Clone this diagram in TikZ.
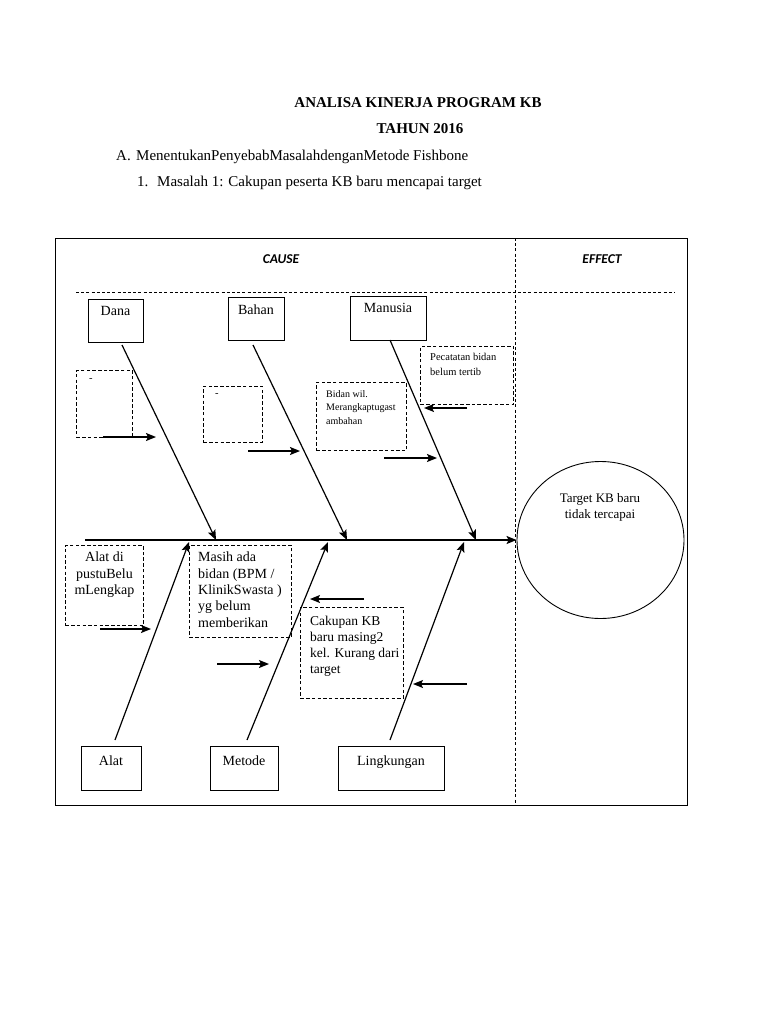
\documentclass[tikz,border=0pt]{standalone}
\usepackage{fontspec}
\setmainfont{Liberation Serif}
\newfontfamily\calfont{Carlito}
\usetikzlibrary{arrows.meta,positioning,shapes.geometric}
\begin{document}
\begin{tikzpicture}[x=1pt,y=-1pt,
  every node/.style={inner sep=0pt, font=\fontsize{14}{16.5}\selectfont},
  box/.style={draw, line width=0.9, minimum width=#1, minimum height=43},
  dbox/.style={draw, line width=0.9, dash pattern=on 3.5 off 2.2},
  bone/.style={line width=1.2, -{Stealth[length=10,width=8,inset=2]}},
  sarr/.style={line width=1.4, -{Stealth[length=10,width=8,inset=2]}},
  lbl/.style={font=\fontsize{14}{16.3}\selectfont},
  small/.style={font=\fontsize{10.5}{14}\selectfont, align=left},
  hd/.style={font=\calfont\bfseries\itshape\fontsize{13.5}{15}\selectfont}
]
\useasboundingbox (0,0) rectangle (768,1024);
% header
\node[font=\bfseries\fontsize{15}{18}\selectfont] (t1) at (418,103) {ANALISA KINERJA PROGRAM KB};
\node[font=\bfseries\fontsize{15}{18}\selectfont] (t2) at (420,129) {TAHUN 2016};
\node[anchor=west, font=\fontsize{15}{18}\selectfont] (t3) at (116,157) {\makebox[20pt][l]{A.}MenentukanPenyebabMasalahdenganMetode Fishbone};
\node[anchor=west, font=\fontsize{15}{18}\selectfont] (t4) at (137,183) {\makebox[20pt][l]{1.}Masalah 1: Cakupan peserta KB baru mencapai target};
% frame
\draw[line width=1] (55,238) rectangle (687,805);
\draw[line width=0.8, dash pattern=on 3 off 2.2] (515,238) -- (515,805);
\draw[line width=0.8, dash pattern=on 3 off 2.2] (76,292) -- (675,292);
\node[hd] (cause) at (281,259) {CAUSE};
\node[hd] (effect) at (602,259) {EFFECT};
% category boxes
\node[box=55, label={[lbl,anchor=north,yshift=-8]north:Dana}] (dana) at (115.5,320.5) {};
\node[box=56, label={[lbl,anchor=north,yshift=-8]north:Bahan}] (bahan) at (256,318.5) {};
\node[box=76, minimum height=44, label={[lbl,anchor=north,yshift=-7]north:Manusia}] (manusia) at (388,318) {};
\node[box=60, minimum height=44, label={[lbl,anchor=north,yshift=-10]north:Alat}] (alat) at (111,768) {};
\node[box=68, minimum height=44, label={[lbl,anchor=north,yshift=-10]north:Metode}] (metode) at (244,768) {};
\node[box=106, minimum height=44, label={[lbl,anchor=north,yshift=-10]north:Lingkungan}] (lingk) at (391,768) {};
% effect
\node[draw, line width=0.9, ellipse, minimum width=167, minimum height=157] (eff) at (600.5,540) {};
\node[align=center, font=\fontsize{13}{16}\selectfont] (efft) at (600,507) {Target KB baru\\tidak tercapai};
% spine
\coordinate (sp0) at (85,540);
\draw[bone] (sp0) -- (eff.west);
% bone coordinates
\coordinate (b1) at (122,345); \coordinate (e1) at (216,540);
\coordinate (b2) at (253,345); \coordinate (e2) at (347,540);
\coordinate (b3) at (390,340); \coordinate (e3) at (476,540);
\coordinate (b4) at (115,740); \coordinate (e4) at (189,542);
\coordinate (b5) at (247,740); \coordinate (e5) at (328,542);
\coordinate (b6) at (390,740); \coordinate (e6) at (464,542);
\draw[bone] (b1) -- (e1);
\draw[bone] (b2) -- (e2);
\draw[bone] (b3) -- (e3);
\draw[bone] (b4) -- (e4);
\draw[bone] (b5) -- (e5);
\draw[bone] (b6) -- (e6);
% dashed cause boxes
\node[dbox, minimum width=56, minimum height=67, anchor=north west,
  label={[small,anchor=north west,xshift=13,yshift=-8]north west:-}] (d1) at (76,370) {};
\node[dbox, minimum width=59, minimum height=56, anchor=north west,
  label={[small,anchor=north west,xshift=12,yshift=-7]north west:-}] (d2) at (203,386) {};
\node[dbox, minimum width=90, minimum height=68, anchor=north west,
  label={[font=\fontsize{10}{13.5}\selectfont,align=left,anchor=north west,xshift=10,yshift=-8]north west:Bidan wil.\\Merangkaptugast\\ambahan}] (d3) at (316,382) {};
\node[dbox, minimum width=93, minimum height=58, anchor=north west,
  label={[font=\fontsize{10.5}{15}\selectfont,align=left,anchor=north west,xshift=10,yshift=-7]north west:Pecatatan bidan\\belum tertib}] (d4) at (420,346) {};
\node[dbox, minimum width=78, minimum height=80, anchor=north west,
  label={[lbl,align=center,anchor=north,yshift=-7]north:Alat di\\pustuBelu\\mLengkap}] (d5) at (65,545) {};
\node[dbox, minimum width=102, minimum height=92, anchor=north west,
  label={[lbl,align=left,anchor=north west,xshift=9,yshift=-7]north west:Masih ada\\bidan (BPM /\\KlinikSwasta )\\yg belum\\memberikan}] (d6) at (189,545) {};
\node[dbox, minimum width=103, minimum height=91, anchor=north west,
  label={[font=\fontsize{13.5}{16}\selectfont,align=left,anchor=north west,xshift=10,yshift=-9]north west:Cakupan KB\\baru masing2\\kel. Kurang dari\\target}] (d7) at (300,607) {};
% small arrows
\coordinate (a1s) at (103,437); \coordinate (a1e) at (156,437);
\coordinate (a2s) at (248,451); \coordinate (a2e) at (300,451);
\coordinate (a3s) at (384,458); \coordinate (a3e) at (437,458);
\coordinate (a4s) at (467,408); \coordinate (a4e) at (424,408);
\coordinate (a5s) at (100,629); \coordinate (a5e) at (151,629);
\coordinate (a6s) at (217,664); \coordinate (a6e) at (269,664);
\coordinate (a7s) at (364,599); \coordinate (a7e) at (310,599);
\coordinate (a8s) at (467,684); \coordinate (a8e) at (413,684);
\draw[sarr] (a1s) -- (a1e);
\draw[sarr] (a2s) -- (a2e);
\draw[sarr] (a3s) -- (a3e);
\draw[sarr] (a4s) -- (a4e);
\draw[sarr] (a5s) -- (a5e);
\draw[sarr] (a6s) -- (a6e);
\draw[sarr] (a7s) -- (a7e);
\draw[sarr] (a8s) -- (a8e);
\end{tikzpicture}
\end{document}
